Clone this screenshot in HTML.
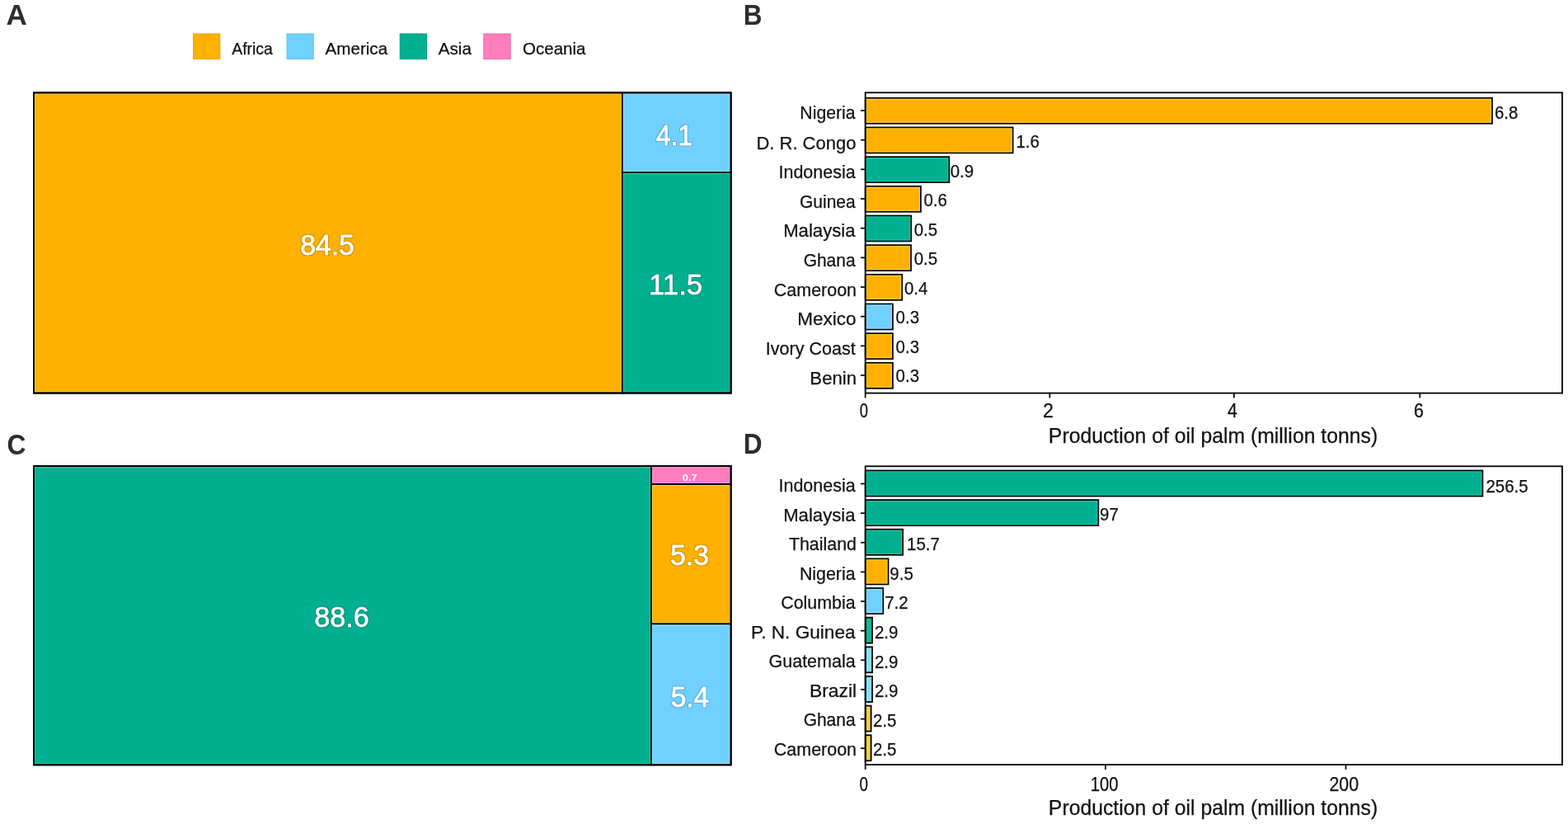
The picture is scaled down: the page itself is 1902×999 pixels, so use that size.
<!DOCTYPE html><html><head><meta charset="utf-8"><title>Oil palm production by region and country</title><style>html,body{margin:0;padding:0;background:#fff;overflow:hidden;}svg{display:block;}text{font-family:"Liberation Sans", Arial, sans-serif;} .k{stroke:#111;stroke-width:0.25px;}</style></head><body>
<svg width="1902" height="999" viewBox="0 0 1902 999">
<defs><filter id="halo" x="-20%" y="-20%" width="140%" height="140%"><feMorphology in="SourceAlpha" operator="dilate" radius="1.4" result="d"/><feFlood flood-color="#000" flood-opacity="0.2"/><feComposite in2="d" operator="in" result="h"/><feMerge><feMergeNode in="h"/><feMergeNode in="SourceGraphic"/></feMerge></filter></defs>
<rect x="0" y="0" width="1902" height="999" fill="#fff"/>
<text x="7.62" y="29.50" font-size="34.5" font-weight="bold" fill="#2e2e2e" textLength="25.33" lengthAdjust="spacingAndGlyphs">A</text>
<text x="901.68" y="29.60" font-size="34.5" font-weight="bold" fill="#2e2e2e" textLength="22.73" lengthAdjust="spacingAndGlyphs">B</text>
<text x="8.53" y="550.60" font-size="34.5" font-weight="bold" fill="#2e2e2e" textLength="22.93" lengthAdjust="spacingAndGlyphs">C</text>
<text x="901.66" y="550.00" font-size="34.5" font-weight="bold" fill="#2e2e2e" textLength="22.87" lengthAdjust="spacingAndGlyphs">D</text>
<rect x="234.5" y="41" width="32.3" height="30.6" fill="#FFB000" stroke="#EEA000" stroke-width="1"/>
<text x="281.25" y="65.50" font-size="21" fill="#111" textLength="49.57" lengthAdjust="spacingAndGlyphs" class="k">Africa</text>
<rect x="348.0" y="41" width="32.3" height="30.6" fill="#70D0FF" stroke="#5EC4F4" stroke-width="1"/>
<text x="394.55" y="65.50" font-size="21" fill="#111" textLength="75.55" lengthAdjust="spacingAndGlyphs" class="k">America</text>
<rect x="485.2" y="41" width="32.3" height="30.6" fill="#00B090" stroke="#009E82" stroke-width="1"/>
<text x="531.75" y="65.50" font-size="21" fill="#111" textLength="40.16" lengthAdjust="spacingAndGlyphs" class="k">Asia</text>
<rect x="586.8" y="41" width="32.3" height="30.6" fill="#FF7DBB" stroke="#F068AC" stroke-width="1"/>
<text x="634.02" y="65.50" font-size="21" fill="#111" textLength="76.52" lengthAdjust="spacingAndGlyphs" class="k">Oceania</text>
<rect x="41" y="112.4" width="713.90" height="364.10" fill="#FFB000" stroke="#000" stroke-width="2"/><rect x="42.50" y="113.90" width="710.90" height="361.10" fill="none" stroke="#FFE255" stroke-width="1" stroke-opacity="0.75"/>
<rect x="754.9" y="112.4" width="131.70" height="96.60" fill="#70D0FF" stroke="#000" stroke-width="2"/><rect x="756.40" y="113.90" width="128.70" height="93.60" fill="none" stroke="#9CF4FF" stroke-width="1" stroke-opacity="0.75"/>
<rect x="754.9" y="209" width="131.70" height="267.50" fill="#00B090" stroke="#000" stroke-width="2"/><rect x="756.40" y="210.50" width="128.70" height="264.50" fill="none" stroke="#2ED8AE" stroke-width="1" stroke-opacity="0.75"/>
<rect x="41" y="112.4" width="845.6" height="364.1" fill="none" stroke="#000" stroke-width="2"/>
<text x="364.16" y="309.20" font-size="35.5" fill="#fff" textLength="65.73" lengthAdjust="spacingAndGlyphs" stroke="#fff" stroke-width="0.6" filter="url(#halo)">84.5</text>
<text x="795.99" y="175.60" font-size="35.5" fill="#fff" textLength="44.02" lengthAdjust="spacingAndGlyphs" stroke="#fff" stroke-width="0.6" filter="url(#halo)">4.1</text>
<text x="786.98" y="356.80" font-size="35.5" fill="#fff" textLength="65.29" lengthAdjust="spacingAndGlyphs" stroke="#fff" stroke-width="0.6" filter="url(#halo)">11.5</text>
<rect x="41" y="565" width="749.00" height="362.30" fill="#00B090" stroke="#000" stroke-width="2"/><rect x="42.50" y="566.50" width="746.00" height="359.30" fill="none" stroke="#2ED8AE" stroke-width="1" stroke-opacity="0.75"/>
<rect x="790" y="565" width="96.60" height="22.00" fill="#FF7DBB" stroke="#000" stroke-width="2"/><rect x="791.50" y="566.50" width="93.60" height="19.00" fill="none" stroke="#FFA6E6" stroke-width="1" stroke-opacity="0.75"/>
<rect x="790" y="587" width="96.60" height="169.50" fill="#FFB000" stroke="#000" stroke-width="2"/><rect x="791.50" y="588.50" width="93.60" height="166.50" fill="none" stroke="#FFE255" stroke-width="1" stroke-opacity="0.75"/>
<rect x="790" y="756.5" width="96.60" height="170.80" fill="#70D0FF" stroke="#000" stroke-width="2"/><rect x="791.50" y="758.00" width="93.60" height="167.80" fill="none" stroke="#9CF4FF" stroke-width="1" stroke-opacity="0.75"/>
<rect x="41" y="565" width="845.6" height="362.3" fill="none" stroke="#000" stroke-width="2"/>
<text x="381.35" y="760.20" font-size="35.5" fill="#fff" textLength="66.24" lengthAdjust="spacingAndGlyphs" stroke="#fff" stroke-width="0.6" filter="url(#halo)">88.6</text>
<text x="813.04" y="685.40" font-size="35.5" fill="#fff" textLength="47.10" lengthAdjust="spacingAndGlyphs" stroke="#fff" stroke-width="0.6" filter="url(#halo)">5.3</text>
<text x="813.66" y="856.90" font-size="35.5" fill="#fff" textLength="46.57" lengthAdjust="spacingAndGlyphs" stroke="#fff" stroke-width="0.6" filter="url(#halo)">5.4</text>
<text x="827.89" y="582.50" font-size="11.6" font-weight="bold" fill="#fff" textLength="17.86" lengthAdjust="spacingAndGlyphs">0.7</text>
<rect x="1049.7" y="118.85" width="760.30" height="30.90" fill="#FFB000" stroke="#000" stroke-width="1.8"/>
<rect x="1051.10" y="120.25" width="757.50" height="28.10" fill="none" stroke="#FFE255" stroke-width="1" stroke-opacity="0.7"/>
<text x="1812.98" y="143.70" font-size="22" fill="#111" textLength="28.44" lengthAdjust="spacingAndGlyphs" class="k">6.8</text>
<line x1="1044.0" y1="134.00" x2="1049.7" y2="134.00" stroke="#000" stroke-width="1.7"/>
<text x="970.35" y="143.60" font-size="22.6" fill="#111" textLength="67.26" lengthAdjust="spacingAndGlyphs" class="k">Nigeria</text>
<rect x="1049.7" y="154.52" width="178.90" height="30.90" fill="#FFB000" stroke="#000" stroke-width="1.8"/>
<rect x="1051.10" y="155.92" width="176.10" height="28.10" fill="none" stroke="#FFE255" stroke-width="1" stroke-opacity="0.7"/>
<text x="1232.47" y="179.20" font-size="22" fill="#111" textLength="28.44" lengthAdjust="spacingAndGlyphs" class="k">1.6</text>
<line x1="1044.0" y1="169.67" x2="1049.7" y2="169.67" stroke="#000" stroke-width="1.7"/>
<text x="917.38" y="180.60" font-size="22.6" fill="#111" textLength="121.10" lengthAdjust="spacingAndGlyphs" class="k">D. R. Congo</text>
<rect x="1049.7" y="190.19" width="101.60" height="30.90" fill="#00B090" stroke="#000" stroke-width="1.8"/>
<rect x="1051.10" y="191.59" width="98.80" height="28.10" fill="none" stroke="#2ED8AE" stroke-width="1" stroke-opacity="0.7"/>
<text x="1152.68" y="214.70" font-size="22" fill="#111" textLength="28.44" lengthAdjust="spacingAndGlyphs" class="k">0.9</text>
<line x1="1044.0" y1="205.34" x2="1049.7" y2="205.34" stroke="#000" stroke-width="1.7"/>
<text x="944.51" y="216.40" font-size="22.6" fill="#111" textLength="93.13" lengthAdjust="spacingAndGlyphs" class="k">Indonesia</text>
<rect x="1049.7" y="225.86" width="67.20" height="30.90" fill="#FFB000" stroke="#000" stroke-width="1.8"/>
<rect x="1051.10" y="227.26" width="64.40" height="28.10" fill="none" stroke="#FFE255" stroke-width="1" stroke-opacity="0.7"/>
<text x="1120.48" y="250.20" font-size="22" fill="#111" textLength="28.44" lengthAdjust="spacingAndGlyphs" class="k">0.6</text>
<line x1="1044.0" y1="241.01" x2="1049.7" y2="241.01" stroke="#000" stroke-width="1.7"/>
<text x="970.05" y="252.20" font-size="22.6" fill="#111" textLength="67.59" lengthAdjust="spacingAndGlyphs" class="k">Guinea</text>
<rect x="1049.7" y="261.53" width="55.50" height="30.90" fill="#00B090" stroke="#000" stroke-width="1.8"/>
<rect x="1051.10" y="262.93" width="52.70" height="28.10" fill="none" stroke="#2ED8AE" stroke-width="1" stroke-opacity="0.7"/>
<text x="1108.68" y="286.00" font-size="22" fill="#111" textLength="28.44" lengthAdjust="spacingAndGlyphs" class="k">0.5</text>
<line x1="1044.0" y1="276.68" x2="1049.7" y2="276.68" stroke="#000" stroke-width="1.7"/>
<text x="950.17" y="287.30" font-size="22.6" fill="#111" textLength="87.45" lengthAdjust="spacingAndGlyphs" class="k">Malaysia</text>
<rect x="1049.7" y="297.20" width="55.30" height="30.90" fill="#FFB000" stroke="#000" stroke-width="1.8"/>
<rect x="1051.10" y="298.60" width="52.50" height="28.10" fill="none" stroke="#FFE255" stroke-width="1" stroke-opacity="0.7"/>
<text x="1108.68" y="320.80" font-size="22" fill="#111" textLength="28.44" lengthAdjust="spacingAndGlyphs" class="k">0.5</text>
<line x1="1044.0" y1="312.35" x2="1049.7" y2="312.35" stroke="#000" stroke-width="1.7"/>
<text x="974.65" y="323.00" font-size="22.6" fill="#111" textLength="62.95" lengthAdjust="spacingAndGlyphs" class="k">Ghana</text>
<rect x="1049.7" y="332.87" width="44.50" height="30.90" fill="#FFB000" stroke="#000" stroke-width="1.8"/>
<rect x="1051.10" y="334.27" width="41.70" height="28.10" fill="none" stroke="#FFE255" stroke-width="1" stroke-opacity="0.7"/>
<text x="1096.98" y="357.00" font-size="22" fill="#111" textLength="28.44" lengthAdjust="spacingAndGlyphs" class="k">0.4</text>
<line x1="1044.0" y1="348.02" x2="1049.7" y2="348.02" stroke="#000" stroke-width="1.7"/>
<text x="938.83" y="358.80" font-size="22.6" fill="#111" textLength="100.20" lengthAdjust="spacingAndGlyphs" class="k">Cameroon</text>
<rect x="1049.7" y="368.54" width="33.20" height="30.90" fill="#70D0FF" stroke="#000" stroke-width="1.8"/>
<rect x="1051.10" y="369.94" width="30.40" height="28.10" fill="none" stroke="#9CF4FF" stroke-width="1" stroke-opacity="0.7"/>
<text x="1086.58" y="392.20" font-size="22" fill="#111" textLength="28.44" lengthAdjust="spacingAndGlyphs" class="k">0.3</text>
<line x1="1044.0" y1="383.69" x2="1049.7" y2="383.69" stroke="#000" stroke-width="1.7"/>
<text x="967.14" y="394.30" font-size="22.6" fill="#111" textLength="71.36" lengthAdjust="spacingAndGlyphs" class="k">Mexico</text>
<rect x="1049.7" y="404.21" width="33.20" height="30.90" fill="#FFB000" stroke="#000" stroke-width="1.8"/>
<rect x="1051.10" y="405.61" width="30.40" height="28.10" fill="none" stroke="#FFE255" stroke-width="1" stroke-opacity="0.7"/>
<text x="1086.58" y="428.20" font-size="22" fill="#111" textLength="28.44" lengthAdjust="spacingAndGlyphs" class="k">0.3</text>
<line x1="1044.0" y1="419.36" x2="1049.7" y2="419.36" stroke="#000" stroke-width="1.7"/>
<text x="928.81" y="429.80" font-size="22.6" fill="#111" textLength="108.95" lengthAdjust="spacingAndGlyphs" class="k">Ivory Coast</text>
<rect x="1049.7" y="439.88" width="33.20" height="30.90" fill="#FFB000" stroke="#000" stroke-width="1.8"/>
<rect x="1051.10" y="441.28" width="30.40" height="28.10" fill="none" stroke="#FFE255" stroke-width="1" stroke-opacity="0.7"/>
<text x="1086.58" y="463.40" font-size="22" fill="#111" textLength="28.44" lengthAdjust="spacingAndGlyphs" class="k">0.3</text>
<line x1="1044.0" y1="455.03" x2="1049.7" y2="455.03" stroke="#000" stroke-width="1.7"/>
<text x="982.37" y="465.80" font-size="22.6" fill="#111" textLength="56.67" lengthAdjust="spacingAndGlyphs" class="k">Benin</text>
<rect x="1049.7" y="112.3" width="845.30" height="364.30" fill="none" stroke="#000" stroke-width="1.8"/>
<line x1="1049.70" y1="476.6" x2="1049.70" y2="482.40000000000003" stroke="#000" stroke-width="1.7"/>
<text x="1042.76" y="506.00" font-size="23.5" fill="#111" textLength="10.25" lengthAdjust="spacingAndGlyphs" class="k">0</text>
<line x1="1273.30" y1="476.6" x2="1273.30" y2="482.40000000000003" stroke="#000" stroke-width="1.7"/>
<text x="1264.94" y="506.00" font-size="23.5" fill="#111" textLength="12.96" lengthAdjust="spacingAndGlyphs" class="k">2</text>
<line x1="1496.80" y1="476.6" x2="1496.80" y2="482.40000000000003" stroke="#000" stroke-width="1.7"/>
<text x="1489.02" y="506.00" font-size="23.5" fill="#111" textLength="11.89" lengthAdjust="spacingAndGlyphs" class="k">4</text>
<line x1="1722.30" y1="476.6" x2="1722.30" y2="482.40000000000003" stroke="#000" stroke-width="1.7"/>
<text x="1714.93" y="506.00" font-size="23.5" fill="#111" textLength="11.91" lengthAdjust="spacingAndGlyphs" class="k">6</text>
<text x="1271.86" y="536.50" font-size="25.3" fill="#111" textLength="399.32" lengthAdjust="spacingAndGlyphs" class="k">Production of oil palm (million tonns)</text>
<rect x="1049.7" y="570.50" width="748.70" height="31.00" fill="#00B090" stroke="#000" stroke-width="1.8"/>
<rect x="1051.10" y="571.90" width="745.90" height="28.20" fill="none" stroke="#2ED8AE" stroke-width="1" stroke-opacity="0.7"/>
<text x="1802.38" y="596.60" font-size="22" fill="#111" textLength="51.20" lengthAdjust="spacingAndGlyphs" class="k">256.5</text>
<line x1="1044.0" y1="586.50" x2="1049.7" y2="586.50" stroke="#000" stroke-width="1.7"/>
<text x="944.51" y="595.90" font-size="22.6" fill="#111" textLength="93.13" lengthAdjust="spacingAndGlyphs" class="k">Indonesia</text>
<rect x="1049.7" y="606.14" width="282.60" height="31.00" fill="#00B090" stroke="#000" stroke-width="1.8"/>
<rect x="1051.10" y="607.54" width="279.80" height="28.20" fill="none" stroke="#2ED8AE" stroke-width="1" stroke-opacity="0.7"/>
<text x="1334.03" y="631.40" font-size="22" fill="#111" textLength="22.76" lengthAdjust="spacingAndGlyphs" class="k">97</text>
<line x1="1044.0" y1="622.14" x2="1049.7" y2="622.14" stroke="#000" stroke-width="1.7"/>
<text x="950.17" y="631.70" font-size="22.6" fill="#111" textLength="87.45" lengthAdjust="spacingAndGlyphs" class="k">Malaysia</text>
<rect x="1049.7" y="641.78" width="45.40" height="31.00" fill="#00B090" stroke="#000" stroke-width="1.8"/>
<rect x="1051.10" y="643.18" width="42.60" height="28.20" fill="none" stroke="#2ED8AE" stroke-width="1" stroke-opacity="0.7"/>
<text x="1100.07" y="667.00" font-size="22" fill="#111" textLength="39.82" lengthAdjust="spacingAndGlyphs" class="k">15.7</text>
<line x1="1044.0" y1="657.78" x2="1049.7" y2="657.78" stroke="#000" stroke-width="1.7"/>
<text x="956.92" y="667.00" font-size="22.6" fill="#111" textLength="82.04" lengthAdjust="spacingAndGlyphs" class="k">Thailand</text>
<rect x="1049.7" y="677.42" width="27.80" height="31.00" fill="#FFB000" stroke="#000" stroke-width="1.8"/>
<rect x="1051.10" y="678.82" width="25.00" height="28.20" fill="none" stroke="#FFE255" stroke-width="1" stroke-opacity="0.7"/>
<text x="1079.33" y="702.60" font-size="22" fill="#111" textLength="28.44" lengthAdjust="spacingAndGlyphs" class="k">9.5</text>
<line x1="1044.0" y1="693.42" x2="1049.7" y2="693.42" stroke="#000" stroke-width="1.7"/>
<text x="969.94" y="702.50" font-size="22.6" fill="#111" textLength="67.67" lengthAdjust="spacingAndGlyphs" class="k">Nigeria</text>
<rect x="1049.7" y="713.06" width="21.50" height="31.00" fill="#70D0FF" stroke="#000" stroke-width="1.8"/>
<rect x="1051.10" y="714.46" width="18.70" height="28.20" fill="none" stroke="#9CF4FF" stroke-width="1" stroke-opacity="0.7"/>
<text x="1073.13" y="737.60" font-size="22" fill="#111" textLength="28.44" lengthAdjust="spacingAndGlyphs" class="k">7.2</text>
<line x1="1044.0" y1="729.06" x2="1049.7" y2="729.06" stroke="#000" stroke-width="1.7"/>
<text x="947.23" y="737.70" font-size="22.6" fill="#111" textLength="90.41" lengthAdjust="spacingAndGlyphs" class="k">Columbia</text>
<rect x="1049.7" y="748.70" width="8.40" height="31.00" fill="#16B693" stroke="#000" stroke-width="1.8"/>
<text x="1060.88" y="774.10" font-size="22" fill="#111" textLength="28.44" lengthAdjust="spacingAndGlyphs" class="k">2.9</text>
<line x1="1044.0" y1="764.70" x2="1049.7" y2="764.70" stroke="#000" stroke-width="1.7"/>
<text x="911.03" y="773.70" font-size="22.6" fill="#111" textLength="126.60" lengthAdjust="spacingAndGlyphs" class="k">P. N. Guinea</text>
<rect x="1049.7" y="784.34" width="8.40" height="31.00" fill="#86E2F2" stroke="#000" stroke-width="1.8"/>
<text x="1060.88" y="809.60" font-size="22" fill="#111" textLength="28.44" lengthAdjust="spacingAndGlyphs" class="k">2.9</text>
<line x1="1044.0" y1="800.34" x2="1049.7" y2="800.34" stroke="#000" stroke-width="1.7"/>
<text x="932.53" y="809.00" font-size="22.6" fill="#111" textLength="105.11" lengthAdjust="spacingAndGlyphs" class="k">Guatemala</text>
<rect x="1049.7" y="819.98" width="8.40" height="31.00" fill="#86E2F2" stroke="#000" stroke-width="1.8"/>
<text x="1060.88" y="845.30" font-size="22" fill="#111" textLength="28.44" lengthAdjust="spacingAndGlyphs" class="k">2.9</text>
<line x1="1044.0" y1="835.98" x2="1049.7" y2="835.98" stroke="#000" stroke-width="1.7"/>
<text x="981.91" y="844.90" font-size="22.6" fill="#111" textLength="57.25" lengthAdjust="spacingAndGlyphs" class="k">Brazil</text>
<rect x="1049.7" y="855.62" width="6.90" height="31.00" fill="#F7D045" stroke="#000" stroke-width="1.8"/>
<text x="1058.98" y="880.50" font-size="22" fill="#111" textLength="28.44" lengthAdjust="spacingAndGlyphs" class="k">2.5</text>
<line x1="1044.0" y1="871.62" x2="1049.7" y2="871.62" stroke="#000" stroke-width="1.7"/>
<text x="974.65" y="880.40" font-size="22.6" fill="#111" textLength="62.95" lengthAdjust="spacingAndGlyphs" class="k">Ghana</text>
<rect x="1049.7" y="891.26" width="6.90" height="31.00" fill="#F7D045" stroke="#000" stroke-width="1.8"/>
<text x="1058.98" y="916.10" font-size="22" fill="#111" textLength="28.44" lengthAdjust="spacingAndGlyphs" class="k">2.5</text>
<line x1="1044.0" y1="907.26" x2="1049.7" y2="907.26" stroke="#000" stroke-width="1.7"/>
<text x="938.83" y="915.80" font-size="22.6" fill="#111" textLength="100.20" lengthAdjust="spacingAndGlyphs" class="k">Cameroon</text>
<rect x="1049.7" y="565.3" width="845.30" height="361.80" fill="none" stroke="#000" stroke-width="1.8"/>
<line x1="1049.70" y1="927.1" x2="1049.70" y2="932.9" stroke="#000" stroke-width="1.7"/>
<text x="1042.55" y="958.90" font-size="23.5" fill="#111" textLength="10.48" lengthAdjust="spacingAndGlyphs" class="k">0</text>
<line x1="1341.00" y1="927.1" x2="1341.00" y2="932.9" stroke="#000" stroke-width="1.7"/>
<text x="1322.78" y="958.90" font-size="23.5" fill="#111" textLength="33.80" lengthAdjust="spacingAndGlyphs" class="k">100</text>
<line x1="1632.50" y1="927.1" x2="1632.50" y2="932.9" stroke="#000" stroke-width="1.7"/>
<text x="1612.43" y="958.90" font-size="23.5" fill="#111" textLength="35.69" lengthAdjust="spacingAndGlyphs" class="k">200</text>
<text x="1271.86" y="987.60" font-size="25.3" fill="#111" textLength="399.32" lengthAdjust="spacingAndGlyphs" class="k">Production of oil palm (million tonns)</text>
</svg></body></html>
